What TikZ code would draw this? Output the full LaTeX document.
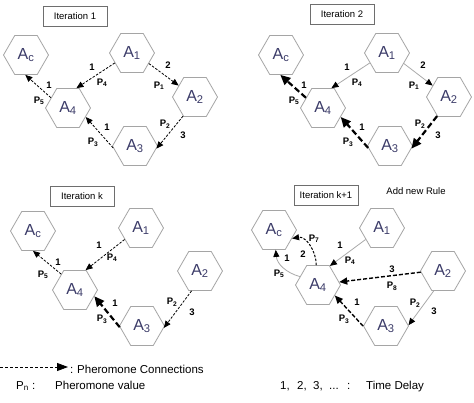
\documentclass[tikz,border=0pt]{standalone}
\usepackage{fontspec}
\setmainfont{Liberation Sans}
\usetikzlibrary{shapes.geometric,arrows.meta}
\definecolor{hexedge}{RGB}{165,165,165}
\definecolor{hextext}{RGB}{60,60,105}
\definecolor{glin}{RGB}{170,170,170}
\definecolor{boxedge}{RGB}{110,110,110}
\tikzset{
 hexa/.style={regular polygon, regular polygon sides=6, minimum size=45pt, inner sep=0pt, draw=hexedge, line width=0.8pt, fill=white, text=hextext, font=\fontsize{16}{16}\selectfont},
 lbl/.style={font=\fontsize{9.5}{10}\selectfont\bfseries, inner sep=0pt},
 plbl/.style={lbl, anchor=base west},
 itbox/.style={draw=boxedge, line width=0.6pt, minimum width=64pt, minimum height=20pt, inner sep=0pt, font=\fontsize{9.5}{10}\selectfont},
 legtxt/.style={anchor=base west, inner sep=0pt, font=\fontsize{11.5}{12}\selectfont},
 thinpc/.style={line width=0.8pt, dash pattern=on 2.5pt off 1.5pt, -{Triangle[length=7pt,width=6pt]}},
 thickpc/.style={line width=2.2pt, dash pattern=on 6pt off 3pt, -{Triangle[length=10pt,width=9pt]}},
 midpc/.style={line width=1.4pt, dash pattern=on 4pt off 2pt, -{Triangle[length=8pt,width=7pt]}},
 gline/.style={draw=glin, line width=0.8pt, -{Triangle[length=7pt,width=6pt,color=black]}},
}
\newcommand{\plab}[4]{\node[plbl] (#1) at ({#2-3.3},{#3+3.5}) {P\textsubscript{#4}};}
\newcommand{\nlab}[4]{\node[lbl] (#1) at (#2,#3) {#4};}
\begin{document}
\begin{tikzpicture}[x=1pt,y=-1pt]
\useasboundingbox (0,0) rectangle (474,402);
\fill[white] (0,0) rectangle (474,402);

% ---------- Panel 1 ----------
\node[itbox] (it1) at (75,16) {Iteration 1};
\node[hexa] (Ac1) at (26,55) {A\textsubscript{c}};
\node[hexa] (A11) at (132,53) {A\textsubscript{1}};
\node[hexa] (A41) at (68,108) {A\textsubscript{4}};
\node[hexa] (A21) at (195,97) {A\textsubscript{2}};
\node[hexa] (A31) at (135,146) {A\textsubscript{3}};
\draw[thinpc] (A11.210) -- (A41.67);
\draw[thinpc] (A11.328) -- (A21.145);
\draw[thinpc] (A21.238) -- (A31.353);
\draw[thinpc] (A31.185) -- (A41.333);
\draw[thinpc] (A41.149) -- (Ac1.268);
\nlab{a1}{92}{67}{1} \plab{a2}{100}{82}{4}
\nlab{a3}{168}{65}{2} \plab{a4}{157}{85}{1}
\plab{a5}{163}{123}{2} \nlab{a6}{183}{135}{3}
\nlab{a7}{107}{127}{1} \plab{a8}{91}{141}{3}
\nlab{a9}{49}{85}{1} \plab{a10}{37}{100}{5}

% ---------- Panel 2 ----------
\node[itbox] (it2) at (342,14) {Iteration 2};
\node[hexa] (Ac2) at (281,55) {A\textsubscript{c}};
\node[hexa] (A12) at (387,53) {A\textsubscript{1}};
\node[hexa] (A42) at (323,108) {A\textsubscript{4}};
\node[hexa] (A22) at (449,97) {A\textsubscript{2}};
\node[hexa] (A32) at (390,146) {A\textsubscript{3}};
\draw[gline] (A12.210) -- (A42.67);
\draw[gline] (A12.328) -- (A22.145);
\draw[thickpc] (A22.238) -- (A32.353);
\draw[thickpc] (A32.185) -- (A42.333);
\draw[thickpc] (A42.149) -- (Ac2.268);
\nlab{b1}{347}{67}{1} \plab{b2}{355}{82}{4}
\nlab{b3}{423}{65}{2} \plab{b4}{412}{85}{1}
\plab{b5}{418}{123}{2} \nlab{b6}{438}{135}{3}
\nlab{b7}{362}{127}{1} \plab{b8}{346}{141}{3}
\nlab{b9}{304}{85}{1} \plab{b10}{292}{100}{5}

% ---------- Panel 3 ----------
\node[itbox] (it3) at (82,196) {Iteration k};
\node[hexa] (Ac3) at (33,231) {A\textsubscript{c}};
\node[hexa] (A13) at (141,228) {A\textsubscript{1}};
\node[hexa] (A43) at (75,290) {A\textsubscript{4}};
\node[hexa] (A23) at (200,271) {A\textsubscript{2}};
\node[hexa] (A33) at (142,326) {A\textsubscript{3}};
\draw[thinpc] (A13.215) -- (A43.62);
\draw[thinpc] (A43.131) -- (Ac3.270);
\draw[thickpc] (A33.183) -- (A43.342);
\draw[thinpc] (A23.247) -- (A33.355);
\nlab{c1}{99}{245}{1} \plab{c2}{110}{257}{4}
\nlab{c3}{58}{262}{1} \plab{c4}{41}{274}{5}
\nlab{c5}{115}{303}{1} \plab{c6}{100}{318}{3}
\plab{c7}{170}{301}{2} \nlab{c8}{192}{312}{3}

% ---------- Panel 4 ----------
\node[itbox] (it4) at (326,195) {Iteration k+1};
\node[inner sep=0pt, font=\fontsize{9.5}{10}\selectfont] (rule) at (416,191) {Add new Rule};
\node[hexa] (Ac4) at (274,230) {A\textsubscript{c}};
\node[hexa] (A14) at (382,228) {A\textsubscript{1}};
\node[hexa] (A44) at (318,285) {A\textsubscript{4}};
\node[hexa] (A24) at (443,271) {A\textsubscript{2}};
\node[hexa] (A34) at (386,326) {A\textsubscript{3}};
\draw[gline] (A14.215) -- (A44.58);
\draw[midpc] (A24.183) -- (A44.8);
\draw[gline] (A24.245) -- (A34.2);
\draw[midpc] (A34.180) -- (A44.328);
\draw[gline] (A44.155) to[out=165,in=-85] (Ac4.275);
\draw[thinpc, line width=1pt] (A44.95) to[out=90,in=10] (Ac4.335);
\plab{d1}{312}{238}{7} \nlab{d2}{303}{254}{2}
\nlab{d3}{287}{258}{1} \plab{d4}{277}{273}{5}
\nlab{d5}{340}{245}{1} \plab{d6}{348}{260}{4}
\nlab{d7}{392}{269}{3} \plab{d8}{390}{285}{8}
\plab{d9}{413}{302}{2} \nlab{d10}{434}{311}{3}
\nlab{d11}{357}{302}{1} \plab{d12}{342}{318}{3}

% ---------- Legend ----------
\coordinate (lgs) at (0,367);
\coordinate (lge) at (68,367);
\draw[line width=0.8pt, dash pattern=on 3pt off 2pt, -{Triangle[length=11pt,width=8pt]}] (lgs) -- (lge);
\node[legtxt] (lgc1) at (70,373) {:};
\node[legtxt] (lgt1) at (77,373) {Pheromone Connections};
\node[legtxt] (lgp) at (16,389) {P\textsubscript{n}};
\node[legtxt] (lgc2) at (32,389) {:};
\node[legtxt] (lgt2) at (55,389) {Pheromone value};
\node[legtxt] (lgn1) at (280,389) {1,};
\node[legtxt] (lgn2) at (297,389) {2,};
\node[legtxt] (lgn3) at (313,389) {3,};
\node[legtxt] (lgn4) at (329,389) {...};
\node[legtxt] (lgc3) at (347,389) {:};
\node[legtxt] (lgt3) at (366,389) {Time Delay};
\end{tikzpicture}
\end{document}
